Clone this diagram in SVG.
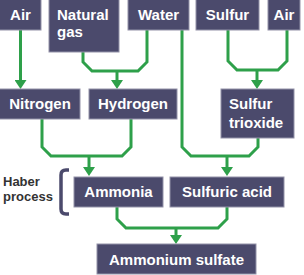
<svg xmlns="http://www.w3.org/2000/svg" width="304" height="275" viewBox="0 0 304 275">
<style>
.box{fill:#4b4a6c;stroke:#9392a8;stroke-width:1}
.t{font-family:"Liberation Sans",Arial,sans-serif;font-weight:bold;font-size:15px;fill:#ffffff}
.m{text-anchor:middle}
.c{fill:none;stroke:#2ea04a;stroke-width:3;stroke-linejoin:miter}
.lbl{font-family:"Liberation Sans",Arial,sans-serif;font-weight:bold;font-size:13px;fill:#333333}
</style>
<defs>
<marker id="ah" markerUnits="userSpaceOnUse" markerWidth="10" markerHeight="12" refX="1" refY="6" orient="auto">
<path d="M0,0 L9,6 L0,12 z" fill="#2ea04a"/>
</marker>
</defs>
<rect width="304" height="275" fill="#ffffff"/>
<g id="connectors">
<path class="c" d="M20.5,30 V81" marker-end="url(#ah)"/>
<path class="c" d="M83,52 V62 L92,71 H138 L147,62 V30"/>
<path class="c" d="M117,71 V81" marker-end="url(#ah)"/>
<path class="c" d="M228,30 V61 L237,70 H278 L287,61 V30"/>
<path class="c" d="M257,70 V81" marker-end="url(#ah)"/>
<path class="c" d="M42,119 V147 L51,156 H122 L131,147 V119"/>
<path class="c" d="M89,156 V168" marker-end="url(#ah)"/>
<path class="c" d="M182,30 V147 L191,156 H249 L258,147 V138"/>
<path class="c" d="M227,156 V168" marker-end="url(#ah)"/>
<path class="c" d="M117,207 V219 L126,228 H218 L227,219 V207"/>
<path class="c" d="M176,228 V236" marker-end="url(#ah)"/>
</g>
<g id="air1"><rect class="box" x="-1" y="-1" width="42" height="31"/><text class="t m" x="20.5" y="20">Air</text></g>
<g id="naturalgas"><rect class="box" x="49" y="-1" width="70" height="53"/><text class="t" x="57" y="20">Natural</text><text class="t" x="57" y="37">gas</text></g>
<g id="water"><rect class="box" x="128" y="-1" width="61" height="31"/><text class="t m" x="158.5" y="20">Water</text></g>
<g id="sulfur"><rect class="box" x="196" y="-1" width="63" height="31"/><text class="t m" x="227.5" y="20">Sulfur</text></g>
<g id="air2"><rect class="box" x="268" y="-1" width="32" height="31"/><text class="t m" x="284" y="20">Air</text></g>
<g id="nitrogen"><rect class="box" x="-1" y="89" width="81" height="30"/><text class="t m" x="40" y="109">Nitrogen</text></g>
<g id="hydrogen"><rect class="box" x="89" y="89" width="88" height="30"/><text class="t m" x="133" y="109">Hydrogen</text></g>
<g id="sulfurtrioxide"><rect class="box" x="221" y="89" width="73" height="49"/><text class="t" x="229" y="109">Sulfur</text><text class="t" x="229" y="128">trioxide</text></g>
<g id="haber"><text class="lbl" x="3" y="186">Haber</text><text class="lbl" x="3" y="201">process</text><path d="M69,170 H66 Q61,170 61,175 V209 Q61,214 66,214 H69" fill="none" stroke="#4b4a6c" stroke-width="3.5"/></g>
<g id="ammonia"><rect class="box" x="74" y="177" width="89" height="30"/><text class="t m" x="118.5" y="197">Ammonia</text></g>
<g id="sulfuricacid"><rect class="box" x="170" y="177" width="114" height="30"/><text class="t m" x="227" y="197">Sulfuric acid</text></g>
<g id="ammoniumsulfate"><rect class="box" x="97" y="244" width="159" height="30"/><text class="t m" x="176.5" y="265">Ammonium sulfate</text></g>
</svg>
